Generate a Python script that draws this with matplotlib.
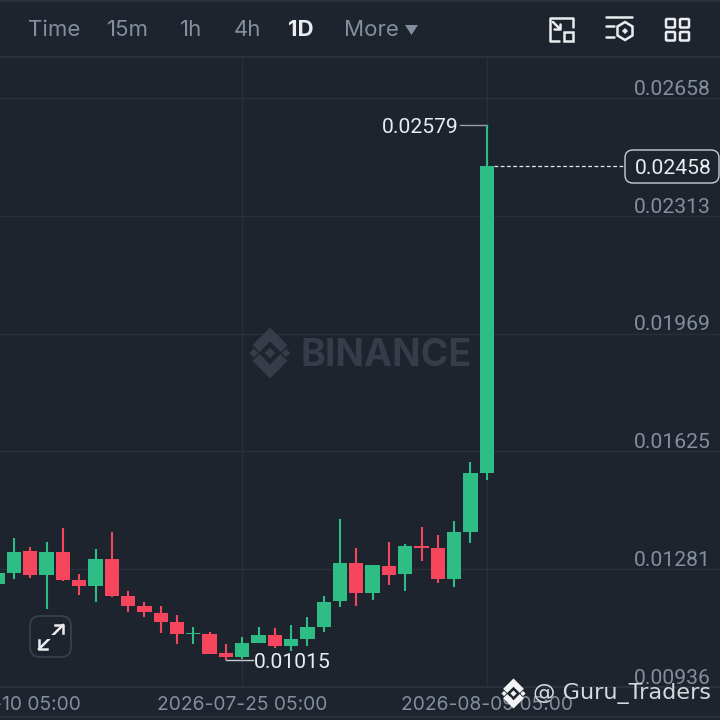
import matplotlib
matplotlib.use("Agg")
import matplotlib.pyplot as plt
from matplotlib.patches import FancyBboxPatch, Rectangle, Polygon
import numpy as np

plt.rcParams['font.family'] = ['Inter', 'DejaVu Sans']

# OHLC, in units of 1e-5 USD, oldest first
opens  = [1238,1270,1334,1263,1331,1249,1232,1310,1203,1172,1153,1126,1090,1090,1035,1024,1066,1087,1056,1076,1112,1187,1298,1212,1291,1266,1348,1343,1253,1388,1563]
closes = [1270,1332,1263,1332,1249,1231,1311,1203,1172,1154,1127,1090,1095,1033,1024,1065,1087,1055,1076,1112,1185,1298,1212,1292,1264,1348,1342,1253,1389,1563,2458]
highs  = [1275,1371,1345,1360,1400,1266,1339,1389,1216,1184,1172,1146,1111,1096,1063,1082,1111,1109,1116,1141,1201,1426,1342,1294,1360,1354,1403,1380,1421,1594,2579]
lows   = [1232,1252,1256,1163,1247,1205,1185,1200,1154,1142,1095,1063,1062,1032,1015,1019,1066,1049,1041,1055,1097,1171,1174,1190,1234,1217,1305,1239,1229,1357,1540]
price_ticks = [0.02658, 0.02313, 0.01969, 0.01625, 0.01281, 0.00936]
date_labels = ["2026-07-10 05:00", "2026-07-25 05:00", "2026-08-09 05:00"]
date_index = [0, 15, 30]
timeframes = ["Time", "15m", "1h", "4h", "1D", "More"]
high_label, low_label, last_label = "0.02579", "0.01015", "0.02458"
high_index, low_index = 30, 14

BG = "#1E242E"; GRID = "#2A303A"; GREEN = "#2EBD85"; RED = "#F6465D"
MUTED = "#848E9C"; WHITE = "#EAECEF"; WM = "#373D48"
NUM = dict(family='Roboto', fontsize=15.2)

fig = plt.figure(figsize=(7.2, 7.2), dpi=100, facecolor=BG)
ax = fig.add_axes([0, 33/720, 1, 630/720])   # chart pane y 57..687 px
ax.set_facecolor(BG)
ax.set_xlim(2.3/16.3, 722.3/16.3)
ax.set_ylim(936, 936 + 630*2.924)
for s in ax.spines.values():
    s.set_visible(False)
ax.set_xticks([]); ax.set_yticks([])

# grid
for p in price_ticks:
    ax.axhline(p*1e5, color=GRID, lw=1, zorder=1)
for d in date_index[1:]:
    ax.axvline(d, color=GRID, lw=1, zorder=1)

# candles
for i, (o, c, h, l) in enumerate(zip(opens, closes, highs, lows)):
    col = GREEN if c >= o else RED
    ax.vlines(i, l, h, color=col, lw=1.5, zorder=3)
    ax.bar(i, max(abs(c-o), 5), bottom=min(o, c), width=0.88, color=col, zorder=4, linewidth=0)

# price labels sit just above their grid lines
tr = ax.get_yaxis_transform()
for p in price_ticks:
    ax.annotate(f"{p:.5f}", xy=(711/720, p*1e5), xycoords=tr, xytext=(0, 6.3),
                textcoords='offset points', color=MUTED,
                ha='right', va='center', zorder=6, **NUM)

# high / low / last annotations
ax.plot([high_index-27/16.3, high_index], [2579, 2579], color="#9AA0A8", lw=1, zorder=2)
ax.annotate(high_label, xy=(high_index-28.5/16.3, 2579), xytext=(0, -2), textcoords='offset points',
            color=WHITE, ha='right', va='center', **NUM)
ax.plot([low_index, low_index+27/16.3], [1015, 1015], color="#C5C8CC", lw=1, zorder=2)
ax.annotate(low_label, xy=(low_index+28/16.3, 1015), xytext=(0, -2), textcoords='offset points',
            color=WHITE, ha='left', va='center', **NUM)
ax.plot([high_index+7/16.3, high_index+138/16.3], [2458, 2458], color=WHITE, lw=0.9, ls=(0, (3, 2)), zorder=2)

# overlay in pixel coordinates for the app chrome
ov = fig.add_axes([0, 0, 1, 1], facecolor='none')
ov.set_xlim(0, 720); ov.set_ylim(720, 0); ov.axis('off')

ov.plot([0, 720], [57, 57], color="#2B313B", lw=1.5)
ov.plot([0, 720], [687, 687], color="#2B313B", lw=1.5)
ov.plot([0, 720], [716.5, 716.5], color="#2B313B", lw=1.5)
ov.plot([0, 720], [0.7, 0.7], color="#2B313B", lw=1.5)

ov.text(386, 356, "BINANCE", color=WM, fontsize=27, fontweight='bold',
        ha='center', va='center', zorder=2)

# date labels
for d, lab in zip(date_index, date_labels):
    x = -2.3 + 16.3*d
    ov.text(x, 705, lab, color=MUTED, fontsize=13.8, ha='center', va='center')

# timeframe row
tf_x = [28, 107, 180, 234, 288, 344]
for x, lab in zip(tf_x, timeframes):
    ov.text(x, 30.5, lab, color=WHITE if lab == "1D" else MUTED, fontsize=16,
            fontweight='bold' if lab == "1D" else 'normal', ha='left', va='center')
ov.add_patch(Polygon([[405, 25], [418, 25], [411.5, 35]], closed=True, color=MUTED, lw=0))

# last-price tag
ov.add_patch(FancyBboxPatch((628, 153), 88, 27, boxstyle="round,pad=3,rounding_size=8",
                            fc=BG, ec="#C9CCD1", lw=1, zorder=8))
ov.text(673, 168.5, last_label, color=WHITE, ha='center', va='center', zorder=9, **NUM)

# toolbar icons
ic = dict(color=WHITE, lw=1.8, solid_capstyle='round')
ov.plot([559, 549.5, 549.5, 573, 573], [40.5, 40.5, 17.5, 17.5, 27], **ic)
ov.add_patch(Rectangle((563.5, 32), 9.5, 8.5, fc='none', ec=WHITE, lw=1.8))
ov.plot([553, 560], [22, 29], **ic); ov.plot([560, 560, 554], [23.5, 29, 29], **ic)
ov.plot([606, 632], [17, 17], **ic)
ov.plot([606, 614], [26, 26], **ic); ov.plot([606, 614], [37, 37], **ic)
ov.add_patch(Polygon([[625, 22], [632.5, 26.5], [632.5, 35.5], [625, 40], [617.5, 35.5], [617.5, 26.5]],
                     closed=True, fc='none', ec=WHITE, lw=1.8))
ov.add_patch(Polygon([[625, 28], [628, 31], [625, 34], [622, 31]], closed=True, fc=WHITE, lw=0))
for x in (666, 680):
    for y in (19, 32):
        ov.add_patch(FancyBboxPatch((x, y), 9, 8.5, boxstyle="round,pad=0,rounding_size=1",
                                    fc='none', ec=WHITE, lw=1.8))

# expand button
ov.add_patch(FancyBboxPatch((30, 616), 41, 41, boxstyle="round,pad=0,rounding_size=10",
                            fc=BG, ec="#3A404A", lw=1.3, zorder=5))
ar = dict(color=WHITE, lw=1.8, zorder=6)
ov.plot([39, 63], [649, 625], **ar)
ov.add_patch(Rectangle((46, 635), 10, 4, fc=BG, ec='none', zorder=6))
ov.plot([55, 63, 63], [625, 625, 633], **ar)
ov.plot([38.5, 38.5, 47], [640, 648.5, 648.5], **ar)

# logo marks
def logo(cx, cy, s, col, z):
    """Binance mark, s = half size in pixels."""
    for dx, r in [(0, 0.24*s), (-0.73*s, 0.2*s), (0.73*s, 0.2*s)]:
        ov.add_patch(Polygon([[cx+dx, cy-r], [cx+dx+r, cy], [cx+dx, cy+r], [cx+dx-r, cy]],
                             closed=True, fc=col, lw=0, zorder=z))
    a, b = 0.84*s, 0.48*s
    lw = 0.17*s*1.9
    ov.plot([cx-b, cx, cx+b], [cy-a+b, cy-a, cy-a+b], color=col, lw=lw, solid_joinstyle='miter', zorder=z)
    ov.plot([cx-b, cx, cx+b], [cy+a-b, cy+a, cy+a-b], color=col, lw=lw, solid_joinstyle='miter', zorder=z)

logo(270, 353, 22, WM, 2)
logo(513.5, 693.5, 13, "#F2F3F5", 7)
ov.text(533, 694, "@ Guru_Traders", color="#D5D8DC", fontsize=16.1, family='DejaVu Sans',
        ha='left', va='center', zorder=7)

fig.savefig("out.png", dpi=100, facecolor=BG)
